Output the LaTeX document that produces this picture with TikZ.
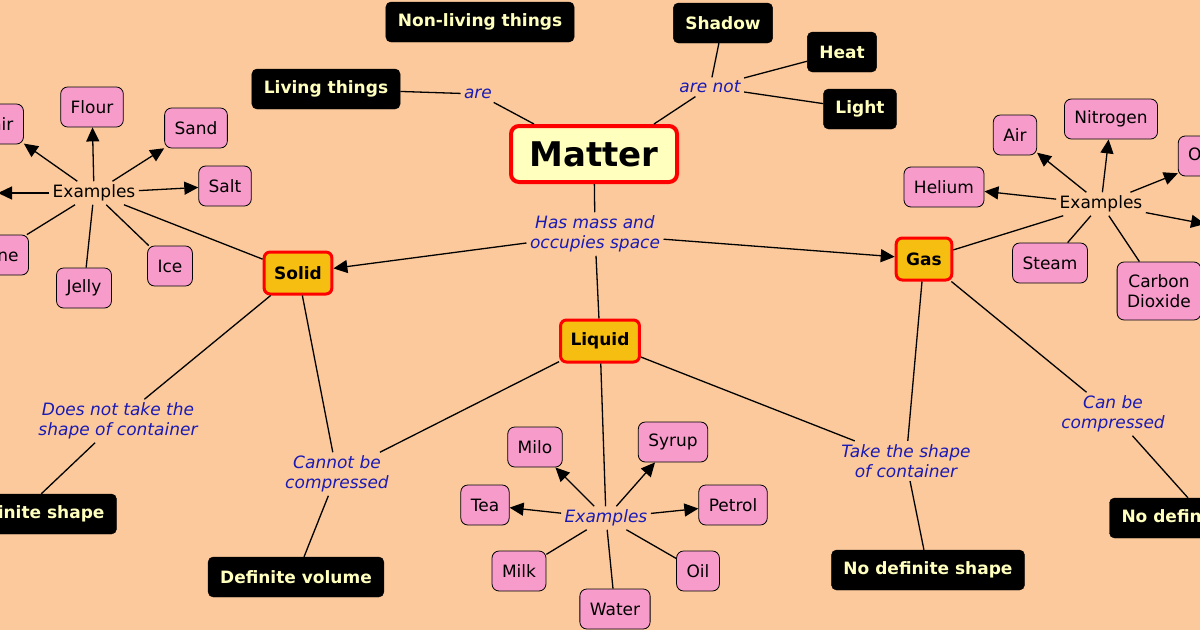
\documentclass[tikz,border=0pt]{standalone}
\usepackage{fontspec}
\setmainfont{DejaVu Sans}
\usetikzlibrary{arrows.meta}
\definecolor{bg}{HTML}{FBC99B}
\definecolor{pinkf}{HTML}{F79BCB}
\definecolor{orangef}{HTML}{F7BE12}
\definecolor{paley}{HTML}{FFFFBE}
\definecolor{lnk}{HTML}{1A1AB4}
\tikzset{
 every node/.style={font=\fontsize{17}{20}\selectfont},
 blk/.style={draw=black,fill=black,rounded corners=5pt,text=paley,font=\fontsize{17}{20}\selectfont\bfseries,inner xsep=12pt,minimum height=40pt},
 ex/.style={draw=black,fill=pinkf,rounded corners=7pt,line width=0.8pt,inner xsep=10pt,minimum height=40pt,align=center},
 cat/.style={draw=red,line width=3pt,fill=orangef,rounded corners=6pt,font=\fontsize{17}{20}\selectfont\bfseries,inner xsep=10pt,minimum height=42pt},
 lk/.style={text=lnk,font=\fontsize{17}{20}\selectfont\itshape,align=center},
 ln/.style={draw=black,line width=1.3pt},
 ar/.style={ln,-{Triangle[length=14pt,width=13pt]}},
}
\begin{document}
\begin{tikzpicture}[x=1pt,y=-1pt]
\fill[bg] (0,0) rectangle (1200,630);
\clip (0,0) rectangle (1200,630);
\useasboundingbox (0,0) rectangle (1200,630);
% top
\node[blk] (nl) at (480,22) {Non-living things};
\node[blk] (lt) at (326,89) {Living things};
\node[blk] (sh) at (723,23) {Shadow};
\node[blk] (ht) at (842,52) {Heat};
\node[blk] (lg) at (860,109) {Light};
\node[lk] (are) at (478,94) {are};
\node[lk] (arenot) at (710,87) {are not};
\node[draw=red,line width=4pt,fill=paley,rounded corners=8pt,font=\fontsize{34}{40}\selectfont\bfseries,minimum width=166pt,minimum height=56pt] (m) at (594,154) {Matter};
\node[lk] (hm) at (595,234) {Has mass and\\occupies space};
\node[cat] (so) at (298,273) {Solid};
\node[cat] (ga) at (924,259) {Gas};
\node[cat] (li) at (600,341) {Liquid};
% links top
\draw[ln] (m.north west) ++(25,0) -- (are);
\draw[ln] (are) -- (lt);
\draw[ln] (m.north east) ++(-25,0) -- (arenot);
\draw[ln] (arenot) -- (sh);
\draw[ln] (arenot) -- (ht);
\draw[ln] (arenot) -- (lg);
\draw[ln] (m) -- (hm);
\draw[ar] (hm) -- (so);
\draw[ar] (hm) -- (ga);
\draw[ln] (hm) -- (li);
% solid examples
\node (se) at (94,193) {Examples};
\node[ex] (fl) at (92,107) {Flour};
\node[ex] (sa) at (196,128) {Sand};
\node[ex] (st) at (225,186) {Salt};
\node[ex] (ic) at (170,266) {Ice};
\node[ex] (je) at (84,288) {Jelly};
\node[ex] (ha) at (-4,124) {Hair};
\node[ex] (sn) at (-6,255) {Stone};
\coordinate (sl) at (-2,193);
\draw[ln] (so) -- (se);
\draw[ar] (se) -- (fl);
\draw[ar] (se) -- (sa);
\draw[ar] (se) -- (st);
\draw[ar] (se) -- (ha);
\draw[ar] (se) -- (sl);
\draw[ln] (se) -- (ic);
\draw[ln] (se) -- (je);
\draw[ln] (se) -- (sn);
% gas examples
\node (ge) at (1101,204) {Examples};
\node[ex] (air) at (1015,135) {Air};
\node[ex] (ni) at (1111,119) {Nitrogen};
\node[ex] (ox) at (1221,156) {Oxygen};
\node[ex] (he) at (944,187) {Helium};
\node[ex] (ste) at (1050,263) {Steam};
\node[ex,minimum height=58pt] (co) at (1159,291) {Carbon\\Dioxide};
\coordinate (gr) at (1205,224);
\draw[ln] (ga) -- (ge);
\draw[ar] (ge) -- (air);
\draw[ar] (ge) -- (ni);
\draw[ar] (ge) -- (ox);
\draw[ar] (ge) -- (he);
\draw[ar] (ge) -- (gr);
\draw[ln] (ge) -- (ste);
\draw[ln] (ge) -- (co);
% liquid examples
\node[lk] (le) at (606,518) {Examples};
\node[ex] (mi) at (535,447) {Milo};
\node[ex] (sy) at (673,442) {Syrup};
\node[ex] (te) at (485,505) {Tea};
\node[ex] (pe) at (733,505) {Petrol};
\node[ex] (mk) at (519,571) {Milk};
\node[ex] (oi) at (698,571) {Oil};
\node[ex] (wa) at (615,609) {Water};
\draw[ln] (li) -- (le);
\draw[ar] (le) -- (mi);
\draw[ar] (le) -- (sy);
\draw[ar] (le) -- (te);
\draw[ar] (le) -- (pe);
\draw[ln] (le) -- (mk);
\draw[ln] (le) -- (oi);
\draw[ln] (le) -- (wa);
% properties
\node[lk] (dn) at (118,421) {Does not take the\\shape of container};
\node[blk] (nds1) at (20,514) {No definite shape};
\node[lk] (cb) at (337,474) {Cannot be\\compressed};
\node[blk] (dv) at (296,577) {Definite volume};
\node[lk] (ts) at (906,461) {Take the shape\\of container};
\node[blk] (nds) at (928,570) {No definite shape};
\node[lk] (cc) at (1113,414) {Can be\\compressed};
\node[blk] (nds2) at (1206,518) {No definite shape};
\draw[ln] (so) -- (dn);
\draw[ln] (dn) -- (nds1);
\draw[ln] (so) -- (cb);
\draw[ln] (li) -- (cb);
\draw[ln] (cb) -- (dv);
\draw[ln] (li) -- (ts);
\draw[ln] (ga) -- (ts);
\draw[ln] (ts) -- (nds);
\draw[ln] (ga) -- (cc);
\draw[ln] (cc) -- (nds2);
\end{tikzpicture}
\end{document}
